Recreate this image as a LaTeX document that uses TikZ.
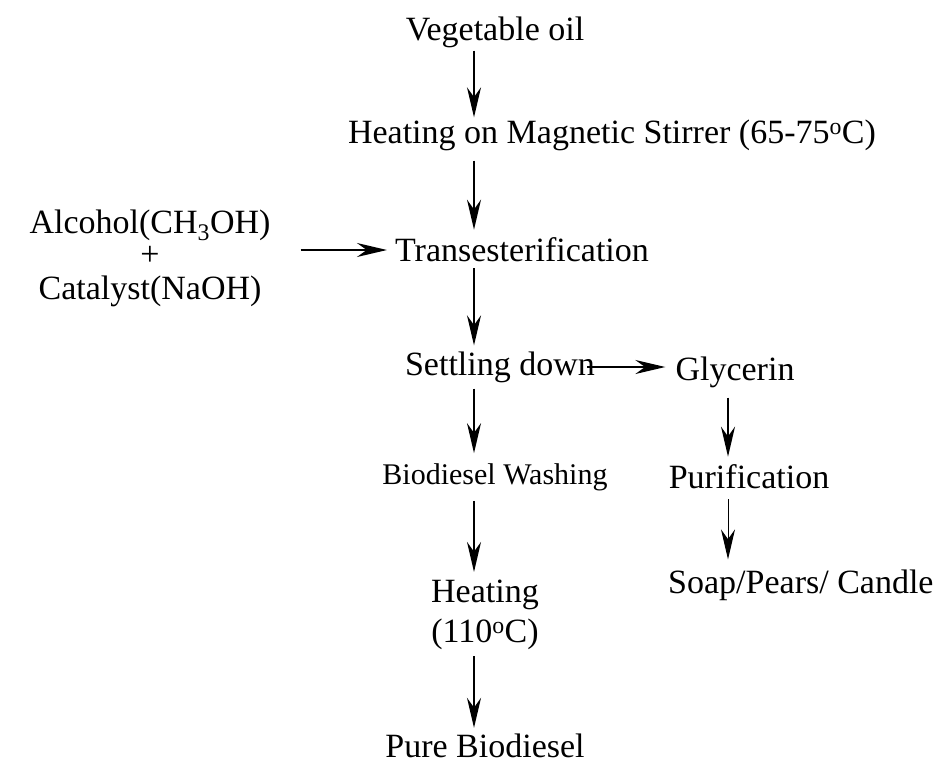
\documentclass[tikz,border=0pt]{standalone}
\usepackage{fontspec}
\setmainfont{Liberation Serif}
\usetikzlibrary{arrows.meta}
\begin{document}
\begin{tikzpicture}[x=1pt,y=-1pt,
  every node/.style={font=\fontsize{34}{38}\selectfont,inner sep=0pt,align=center},
  small/.style={font=\fontsize{30}{34}\selectfont},
  flow/.style={-{Stealth[length=30pt,width=14pt]},line width=1.8pt}]
  \useasboundingbox (0,0) rectangle (933,774);
  \clip (0,0) rectangle (933,774);
  % main line
  \node (veg) at (495,32) {Vegetable oil};
  \node (heat) at (612,135) {Heating on Magnetic Stirrer (65-75\textsuperscript{o}C)};
  \node (trans) at (522,250) {Transesterification};
  \node (alc) at (150,258) {Alcohol(CH\textsubscript{3}OH)\\[-6pt]+\\[-4pt]Catalyst(NaOH)};
  \node (settle) at (500,367) {Settling down};
  \node[small] (wash) at (495,477) {Biodiesel Washing};
  \node (heat2) at (485,615) {Heating\\[2pt](110\textsuperscript{o}C)};
  \node (pure) at (485,746) {Pure Biodiesel};
  % glycerin branch
  \node (gly) at (735,372) {Glycerin};
  \node (pur) at (749,477) {Purification};
  \node[anchor=west] (soap) at (668,585) {Soap/Pears/ Candle};
  \coordinate (ax) at (474,0);
  \coordinate (gx) at (728,0);
  % arrows
  \draw[flow,shorten <=3pt,shorten >=2pt] (veg.south -| ax) -- (heat.north -| ax);
  \draw[flow,shorten <=10pt,shorten >=8pt] (heat.south -| ax) -- (trans.north -| ax);
  \draw[flow,shorten <=30pt,shorten >=8pt] (alc.east |- trans) -- (trans.west);
  \draw[flow,shorten <=6pt,shorten >=6pt] (trans.south -| ax) -- (settle.north -| ax);
  \draw[flow,shorten <=-8pt,shorten >=10pt] (settle.east) -- (gly.west |- settle);
  \draw[flow,shorten <=6pt,shorten >=10pt] (settle.south -| ax) -- (wash.north -| ax);
  \draw[flow,shorten <=10pt,shorten >=8pt] (gly.south -| gx) -- (pur.north -| gx);
  \draw[flow,shorten <=10pt,shorten >=8pt] (wash.south -| ax) -- (heat2.north -| ax);
  \draw[flow,line width=1pt,shorten <=10pt,shorten >=10pt] (pur.south -| gx) -- (soap.north -| gx);
  \draw[flow,shorten <=6pt,shorten >=6pt] (heat2.south -| ax) -- (pure.north -| ax);
\end{tikzpicture}
\end{document}
